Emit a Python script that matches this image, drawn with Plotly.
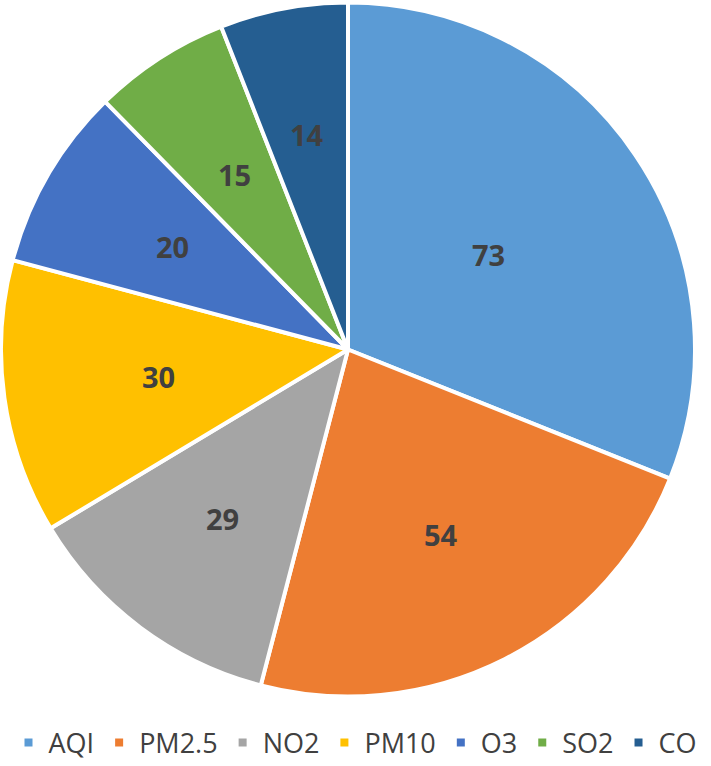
import math
import plotly.graph_objects as go

labels = ["AQI", "PM2.5", "NO2", "PM10", "O3", "SO2", "CO"]
values = [73, 54, 29, 30, 20, 15, 14]
colors = ["#5B9BD5", "#ED7D31", "#A5A5A5", "#FFC000", "#4472C4", "#70AD47", "#255E91"]

# layout helper: data-label distance from the centre as a fraction of the radius
label_radius_frac = [0.49, 0.60, 0.61, 0.555, 0.59, 0.605, 0.635]

W, H = 711, 766
cx, cy, r = 348, 349.5, 347

fig = go.Figure(go.Pie(
    labels=labels, values=values, sort=False, direction="clockwise", rotation=0,
    marker=dict(colors=colors, line=dict(color="white", width=4)),
    textinfo="none",
    domain=dict(x=[max(0, (cx - r) / W), min(1, (cx + r) / W)],
                y=[max(0, 1 - (cy + r) / H), min(1, 1 - (cy - r) / H)]),
    hoverinfo="label+value",
))

total = sum(values)
cum = 0
for v, f in zip(values, label_radius_frac):
    mid = (cum + v / 2) / total * 2 * math.pi
    cum += v
    px = cx + f * (r - 2) * math.sin(mid)
    py = cy - f * (r - 2) * math.cos(mid)
    fig.add_annotation(x=px / W, y=1 - py / H, xref="paper", yref="paper",
                       xanchor="center", yanchor="middle",
                       text=str(v), showarrow=False,
                       font=dict(family="Open Sans", size=29, color="#404040", weight="bold"))

fig.update_layout(
    width=W, height=H, margin=dict(l=0, r=0, t=0, b=0, autoexpand=False),
    paper_bgcolor="white", plot_bgcolor="white",
    showlegend=True,
    legend=dict(orientation="h", x=0.5, xanchor="center", y=-0.002, yanchor="bottom",
                font=dict(family="Open Sans", size=27, color="#404040"),
                tracegroupgap=0),
)
# remove the browser's default 8px body margin so the figure fills the window
fig.write_html("out.html", config={"displayModeBar": False},
               post_script="document.body.style.margin='0';")
